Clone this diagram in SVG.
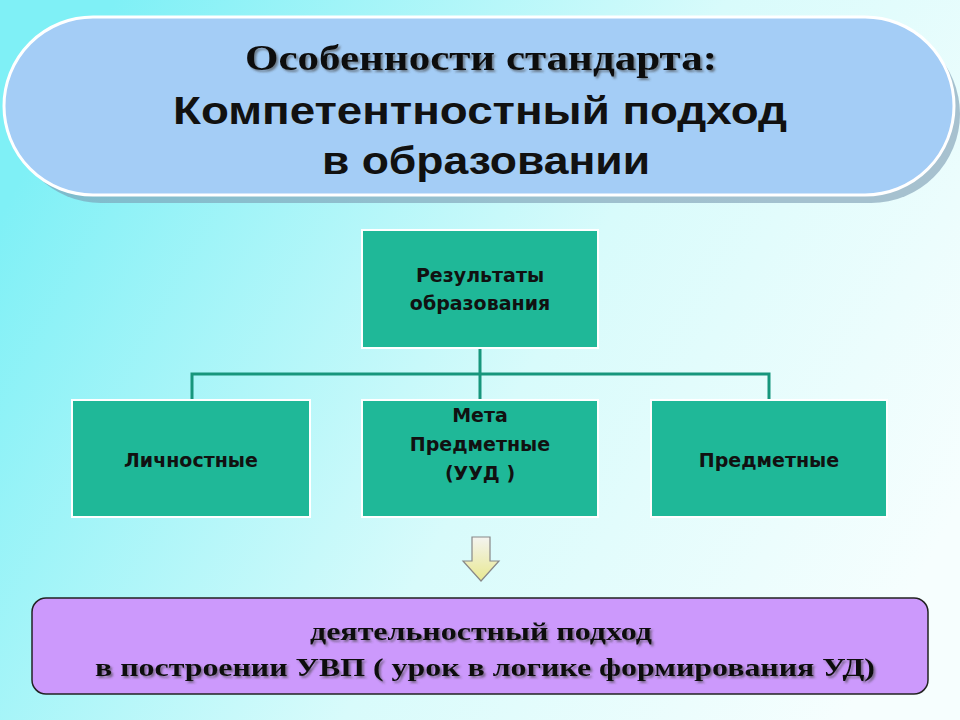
<svg xmlns="http://www.w3.org/2000/svg" width="960" height="720" viewBox="0 0 960 720">
<defs>
<linearGradient id="bg" x1="0" y1="0.3" x2="1" y2="0.7"><stop offset="0" stop-color="#7ff0f6"/><stop offset="0.55" stop-color="#d8fbfb"/><stop offset="1" stop-color="#f6fefe"/></linearGradient>
<linearGradient id="ar" x1="0" y1="0" x2="0" y2="1"><stop offset="0" stop-color="#f4f4f0"/><stop offset="1" stop-color="#e8e890"/></linearGradient>
<filter id="sh" x="-5%" y="-20%" width="110%" height="140%"><feDropShadow dx="2" dy="2" stdDeviation="0.8" flood-color="#444" flood-opacity="0.6"/></filter>
<style>
.box{fill:#1fb898;stroke:#ffffff;stroke-width:2}
.lbl{font-family:"DejaVu Sans",Verdana,sans-serif;font-weight:bold;font-size:19px;fill:#111;text-anchor:middle}
.con{stroke:#17967c;stroke-width:3;fill:none}
.ser{font-family:"Liberation Serif",serif;font-weight:bold;text-anchor:middle;fill:#111;filter:url(#sh)}
.hd{font-family:"Liberation Sans",Arial,sans-serif;font-weight:bold;font-size:38px;fill:#111;text-anchor:middle}
</style>
</defs>
<rect width="960" height="720" fill="url(#bg)"/>
<g id="header">
<rect x="12" y="25" width="948" height="178" rx="89" fill="#7a9ab0" opacity="0.6"/>
<rect x="4" y="17" width="950" height="178" rx="89" fill="#a4cdf6" stroke="#ffffff" stroke-width="3"/>
<text class="ser" x="481" y="70" font-size="36" textLength="472" lengthAdjust="spacingAndGlyphs">Особенности стандарта:</text>
<text class="hd" x="480" y="124" textLength="614" lengthAdjust="spacingAndGlyphs">Компетентностный  подход</text>
<text class="hd" x="486" y="174" textLength="328" lengthAdjust="spacingAndGlyphs">в образовании</text>
</g>
<g id="connectors">
<path class="con" d="M480 348V374M192 400V374H769V400M480 374V400"/>
</g>
<g id="results"><rect class="box" x="362" y="230" width="236" height="118"/>
<text class="lbl" x="480" y="282">Результаты</text><text class="lbl" x="480" y="310">образования</text></g>
<g id="personal"><rect class="box" x="72" y="400" width="238" height="117"/>
<text class="lbl" x="191" y="467">Личностные</text></g>
<g id="meta"><rect class="box" x="362" y="400" width="236" height="117"/>
<text class="lbl" x="480" y="422">Мета</text><text class="lbl" x="480" y="451">Предметные</text><text class="lbl" x="480" y="480">(УУД )</text></g>
<g id="subject"><rect class="box" x="651" y="400" width="236" height="117"/>
<text class="lbl" x="769" y="467">Предметные</text></g>
<g id="arrow"><path d="M472 537H490V561H499L481 581L463 561H472Z" fill="url(#ar)" stroke="#888" stroke-width="1.2"/></g>
<g id="activity">
<rect x="32" y="598" width="896" height="96" rx="14" fill="#cc99fc" stroke="#222" stroke-width="1.5"/>
<text class="ser" x="481" y="640" font-size="26" textLength="342" lengthAdjust="spacingAndGlyphs">деятельностный  подход</text>
<text class="ser" x="485" y="676" font-size="26" textLength="780" lengthAdjust="spacingAndGlyphs">в построении  УВП ( урок в логике формирования  УД)</text>
</g>
</svg>
